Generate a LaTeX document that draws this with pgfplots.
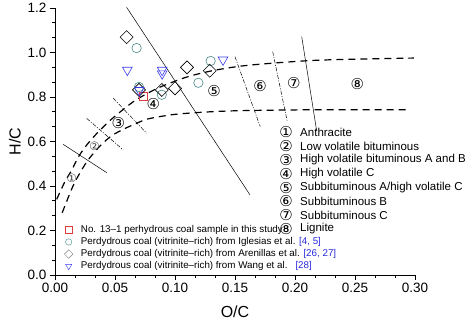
\documentclass[border=0pt]{standalone}
\usepackage{fontspec}
\setmainfont{Liberation Sans}
\newfontfamily\dv{DejaVu Sans}
\usepackage{pgfplots}
\pgfplotsset{compat=1.18}
\definecolor{cteal}{RGB}{70,135,135}
\definecolor{cblue}{RGB}{60,60,235}
\definecolor{cred}{RGB}{225,60,60}
\definecolor{refblue}{RGB}{40,40,220}
\pgfplotsset{
  myleg/.style={legend image code/.code={\draw[mark repeat=2,mark phase=2,##1,mark size=#1,line width=0.4pt] plot coordinates {(0cm,0cm)(0.17cm,0cm)(0.34cm,0cm)};}},
  mylegd/.style={legend image code/.code={\draw[mark repeat=2,mark phase=2,##1,mark size=#1,line width=0.4pt,draw=gray] plot coordinates {(0cm,0cm)(0.17cm,0cm)(0.34cm,0cm)};}},
}
\newcommand{\rk}[3]{%
  \node[inner sep=0pt, font=\dv\fontsize{15}{15}\selectfont] at (axis cs:0.1925,#3) {#1};
  \node[anchor=west, inner sep=0pt, font=\fontsize{11.5}{13}\selectfont] at (axis cs:0.2042,#3) {#2};}
\begin{document}
\begin{tikzpicture}
\useasboundingbox (-55pt,-58pt) rectangle (419pt,275pt);
\begin{axis}[
  at={(0,0)}, anchor=south west,
  scale only axis, width=360pt, height=267pt,
  xmin=0, xmax=0.3, ymin=0, ymax=1.2,
  axis x line*=bottom, axis y line*=left,
  xtick={0,0.05,0.1,0.15,0.2,0.25,0.3},
  ytick={0,0.2,0.4,0.6,0.8,1.0,1.2},
  minor x tick num=2, minor y tick num=2,
  tick align=outside, major tick length=5pt, minor tick length=3pt,
  axis line style={line width=0.9pt},
  tick style={line width=0.8pt, black},
  /pgf/number format/assume math mode=true,
  xticklabel style={/pgf/number format/fixed,/pgf/number format/fixed zerofill,/pgf/number format/precision=2},
  yticklabel style={/pgf/number format/fixed,/pgf/number format/fixed zerofill,/pgf/number format/precision=1},
  tick label style={font=\fontsize{13.5}{15}\selectfont},
  label style={font=\fontsize{16}{18}\selectfont},
  xlabel={O/C}, ylabel={H/C},
  xlabel style={yshift=-6pt},
  clip=false,
  legend style={at={(axis cs:0.0077,0.232)}, anchor=north west, draw=none, fill=none,
    font=\fontsize{9.8}{11}\selectfont, row sep=-0.5pt, inner sep=0pt,
    /tikz/every odd column/.append style={column sep=6pt}},
  legend cell align=left,
]
% band boundaries (thick dashed)
\addplot[black, line width=1.2pt, dash pattern=on 7pt off 5pt, smooth, forget plot] coordinates {
 (0.0014,0.34) (0.0083,0.42) (0.014,0.472) (0.0194,0.53) (0.0264,0.584) (0.035,0.637)
 (0.047,0.70) (0.0653,0.779) (0.079,0.822) (0.09,0.850) (0.11,0.890) (0.132,0.919)
 (0.16,0.942) (0.21,0.963) (0.25,0.970) (0.299,0.975)};
\addplot[black, line width=1.2pt, dash pattern=on 7pt off 5pt, smooth, forget plot] coordinates {
 (0.006,0.28) (0.015,0.40) (0.022,0.47) (0.028,0.52) (0.0375,0.58) (0.047,0.625)
 (0.057,0.655) (0.068,0.682) (0.0764,0.70) (0.0875,0.712) (0.10,0.722) (0.121,0.731)
 (0.15,0.738) (0.2,0.742) (0.25,0.743) (0.294,0.743)};
% rank boundaries
\addplot[black, line width=0.5pt, forget plot] coordinates {(0.0069,0.587) (0.0431,0.460)};
\addplot[black, line width=0.5pt, dash pattern=on 4pt off 1.5pt on 1pt off 1.5pt, forget plot] coordinates {(0.0264,0.704) (0.0569,0.562)};
\addplot[black, line width=0.5pt, dash pattern=on 4pt off 1.5pt on 1pt off 1.5pt, forget plot] coordinates {(0.0486,0.794) (0.0764,0.637)};
\addplot[black, line width=0.5pt, forget plot] coordinates {(0.0597,1.203) (0.1625,0.36)};
\addplot[black, line width=0.5pt, dash pattern=on 4pt off 1.5pt on 1pt off 1.5pt, forget plot] coordinates {(0.150,0.981) (0.171,0.667)};
\addplot[black, line width=0.5pt, dash pattern=on 4pt off 1.5pt on 1pt off 1.5pt, forget plot] coordinates {(0.1814,1.004) (0.1936,0.689)};
\addplot[black, line width=0.5pt, forget plot] coordinates {(0.2056,1.071) (0.218,0.65)};
% data
\addplot[only marks, mark=square, mark size=4.3pt, draw=cred, line width=0.6pt, myleg=3.2pt]
 coordinates {(0.0736,0.803)};
\addlegendentry{No. 13--1 perhydrous coal sample in this study}
\addplot[only marks, mark=o, mark size=4.7pt, draw=cteal, line width=0.6pt, myleg=3.2pt]
 coordinates {(0.068,1.02) (0.070,0.845) (0.089,0.810) (0.1195,0.864) (0.1297,0.962)};
\addlegendentry{Perdydrous coal (vitrinite--rich) from Iglesias et al. \textcolor{refblue}{[4, 5]}}
\addplot[only marks, mark=square, mark options={rotate=45}, mark size=4.6pt, draw=black, line width=0.6pt, mylegd=3pt]
 coordinates {(0.0597,1.069) (0.0700,0.832) (0.089,0.832) (0.100,0.839) (0.110,0.933) (0.129,0.918)};
\addlegendentry{Perdydrous coal (vitrinite--rich) from Arenillas et al. \textcolor{refblue}{[26, 27]}}
\addplot[only marks, mark=triangle, mark options={rotate=180}, mark size=5.6pt, draw=cblue, line width=0.6pt, myleg=3.6pt]
 coordinates {(0.0603,0.921) (0.0703,0.830) (0.0893,0.921) (0.0893,0.905) (0.140,0.967)};
\addlegendentry{Perdydrous coal (vitrinite--rich) from Wang et al.\hspace{8pt}\textcolor{refblue}{[28]}}
% circled rank numbers in the plot
\node[inner sep=0pt, font=\dv\fontsize{11.5}{12}\selectfont, text=darkgray] at (axis cs:0.0139,0.435) {①};
\node[inner sep=0pt, font=\dv\fontsize{11.5}{12}\selectfont, text=darkgray] at (axis cs:0.033,0.580) {②};
\node[inner sep=0pt, font=\dv\fontsize{15}{15}\selectfont] at (axis cs:0.0528,0.685) {③};
\node[inner sep=0pt, font=\dv\fontsize{15}{15}\selectfont] at (axis cs:0.0819,0.768) {④};
\node[inner sep=0pt, font=\dv\fontsize{15}{15}\selectfont] at (axis cs:0.1325,0.828) {⑤};
\node[inner sep=0pt, font=\dv\fontsize{15}{15}\selectfont] at (axis cs:0.171,0.851) {⑥};
\node[inner sep=0pt, font=\dv\fontsize{15}{15}\selectfont] at (axis cs:0.199,0.861) {⑦};
\node[inner sep=0pt, font=\dv\fontsize{15}{15}\selectfont] at (axis cs:0.252,0.858) {⑧};
% rank list
\rk{①}{Anthracite}{0.641}
\rk{②}{Low volatile bituminous}{0.579}
\rk{③}{High volatile bituminous A and B}{0.517}
\rk{④}{High volatile C}{0.455}
\rk{⑤}{Subbituminous A/high volatile C}{0.393}
\rk{⑥}{Subbituminous B}{0.331}
\rk{⑦}{Subbituminous C}{0.269}
\rk{⑧}{Lignite}{0.207}
\end{axis}
\end{tikzpicture}
\end{document}
